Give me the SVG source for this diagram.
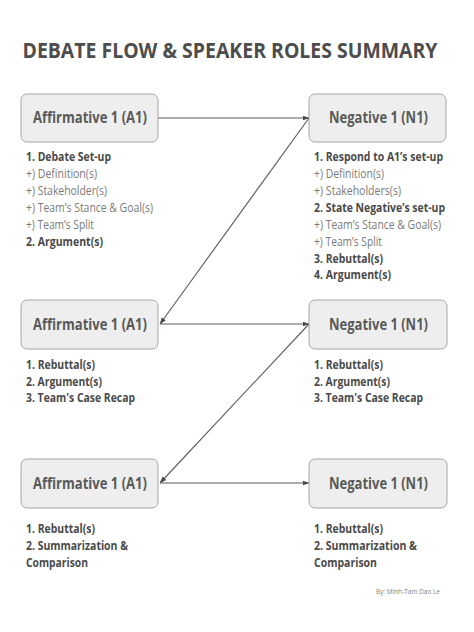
<svg xmlns="http://www.w3.org/2000/svg" width="474" height="632" viewBox="0 0 474 632">
<style>
.title{font-family:"Open Sans","Liberation Sans",sans-serif;font-weight:700;font-size:21px;fill:#4d4d4d}
.box{fill:#eeeeee;stroke:#a6a6a6;stroke-width:1}
.lbl{font-family:"Open Sans","Liberation Sans",sans-serif;font-weight:700;font-size:16px;fill:#595959}
.b{font-family:"Open Sans","Liberation Sans",sans-serif;font-weight:700;font-size:12.5px;fill:#4a4a4a}
.n{font-family:"Open Sans","Liberation Sans",sans-serif;font-weight:400;font-size:12.5px;fill:#7a7a7a}
.by{font-family:"Open Sans","Liberation Sans",sans-serif;font-weight:400;font-size:8px;fill:#808080}
.c{stroke:#5a5a5a;stroke-width:1.1;fill:none}
</style>
<defs>
<marker id="ah" markerUnits="userSpaceOnUse" markerWidth="7" markerHeight="7" viewBox="0 0 7 7" refX="6.5" refY="3.5" orient="auto">
<path d="M0,1 L7,3.5 L0,6 z" fill="#4a4a4a"/>
</marker>
</defs>
<rect width="474" height="632" fill="#ffffff"/>
<text class="title" x="22.5" y="58" textLength="415" lengthAdjust="spacingAndGlyphs">DEBATE FLOW &amp; SPEAKER ROLES SUMMARY</text>

<g id="connectors">
<line class="c" x1="158" y1="118" x2="309" y2="118" marker-end="url(#ah)"/>
<line class="c" x1="309" y1="118" x2="160" y2="324" marker-end="url(#ah)"/>
<line class="c" x1="160" y1="324" x2="309" y2="324" marker-end="url(#ah)"/>
<line class="c" x1="309" y1="324" x2="160" y2="483" marker-end="url(#ah)"/>
<line class="c" x1="160" y1="483" x2="309" y2="483" marker-end="url(#ah)"/>
</g>

<g id="a1-top">
<rect class="box" x="21" y="94" width="137" height="48" rx="6"/>
<text class="lbl" x="33" y="123" textLength="114" lengthAdjust="spacingAndGlyphs">Affirmative 1 (A1)</text>
<text class="b" x="26" y="161" textLength="85" lengthAdjust="spacingAndGlyphs">1. Debate Set-up</text>
<text class="n" x="26" y="178" textLength="71" lengthAdjust="spacingAndGlyphs">+) Definition(s)</text>
<text class="n" x="26" y="195" textLength="81" lengthAdjust="spacingAndGlyphs">+) Stakeholder(s)</text>
<text class="n" x="26" y="212" textLength="127" lengthAdjust="spacingAndGlyphs">+) Team’s Stance &amp; Goal(s)</text>
<text class="n" x="26" y="229" textLength="68" lengthAdjust="spacingAndGlyphs">+) Team’s Split</text>
<text class="b" x="26" y="245.5" textLength="77" lengthAdjust="spacingAndGlyphs">2. Argument(s)</text>
</g>

<g id="n1-top">
<rect class="box" x="309" y="94" width="137" height="48" rx="6"/>
<text class="lbl" x="329" y="123" textLength="99" lengthAdjust="spacingAndGlyphs">Negative 1 (N1)</text>
<text class="b" x="314" y="161" textLength="129" lengthAdjust="spacingAndGlyphs">1. Respond to A1’s set-up</text>
<text class="n" x="314" y="178" textLength="70" lengthAdjust="spacingAndGlyphs">+) Definition(s)</text>
<text class="n" x="314" y="195" textLength="87" lengthAdjust="spacingAndGlyphs">+) Stakeholders(s)</text>
<text class="b" x="314" y="212" textLength="131" lengthAdjust="spacingAndGlyphs">2. State Negative’s set-up</text>
<text class="n" x="314" y="229" textLength="127" lengthAdjust="spacingAndGlyphs">+) Team’s Stance &amp; Goal(s)</text>
<text class="n" x="314" y="246" textLength="68" lengthAdjust="spacingAndGlyphs">+) Team’s Split</text>
<text class="b" x="314" y="262.5" textLength="69" lengthAdjust="spacingAndGlyphs">3. Rebuttal(s)</text>
<text class="b" x="314" y="279" textLength="77" lengthAdjust="spacingAndGlyphs">4. Argument(s)</text>
</g>

<g id="a1-mid">
<rect class="box" x="21" y="300" width="137" height="49" rx="6"/>
<text class="lbl" x="33" y="329.5" textLength="114" lengthAdjust="spacingAndGlyphs">Affirmative 1 (A1)</text>
<text class="b" x="26" y="369" textLength="69" lengthAdjust="spacingAndGlyphs">1. Rebuttal(s)</text>
<text class="b" x="26" y="385.5" textLength="76" lengthAdjust="spacingAndGlyphs">2. Argument(s)</text>
<text class="b" x="26" y="402" textLength="109" lengthAdjust="spacingAndGlyphs">3. Team's Case Recap</text>
</g>

<g id="n1-mid">
<rect class="box" x="309" y="300" width="138" height="49" rx="6"/>
<text class="lbl" x="329" y="329.5" textLength="99" lengthAdjust="spacingAndGlyphs">Negative 1 (N1)</text>
<text class="b" x="314" y="369" textLength="69" lengthAdjust="spacingAndGlyphs">1. Rebuttal(s)</text>
<text class="b" x="314" y="385.5" textLength="76" lengthAdjust="spacingAndGlyphs">2. Argument(s)</text>
<text class="b" x="314" y="402" textLength="109" lengthAdjust="spacingAndGlyphs">3. Team's Case Recap</text>
</g>

<g id="a1-bot">
<rect class="box" x="21" y="459" width="137" height="49" rx="6"/>
<text class="lbl" x="33" y="488.5" textLength="114" lengthAdjust="spacingAndGlyphs">Affirmative 1 (A1)</text>
<text class="b" x="26" y="533" textLength="69" lengthAdjust="spacingAndGlyphs">1. Rebuttal(s)</text>
<text class="b" x="26" y="550" textLength="102" lengthAdjust="spacingAndGlyphs">2. Summarization &amp;</text>
<text class="b" x="26" y="567" textLength="62" lengthAdjust="spacingAndGlyphs">Comparison</text>
</g>

<g id="n1-bot">
<rect class="box" x="309" y="459" width="138" height="49" rx="6"/>
<text class="lbl" x="329" y="488.5" textLength="99" lengthAdjust="spacingAndGlyphs">Negative 1 (N1)</text>
<text class="b" x="314" y="533" textLength="69" lengthAdjust="spacingAndGlyphs">1. Rebuttal(s)</text>
<text class="b" x="314" y="550" textLength="103" lengthAdjust="spacingAndGlyphs">2. Summarization &amp;</text>
<text class="b" x="314" y="567" textLength="63" lengthAdjust="spacingAndGlyphs">Comparison</text>
</g>

<text class="by" x="376" y="594" textLength="64" lengthAdjust="spacingAndGlyphs">By: Minh-Tam Dao Le</text>
</svg>
